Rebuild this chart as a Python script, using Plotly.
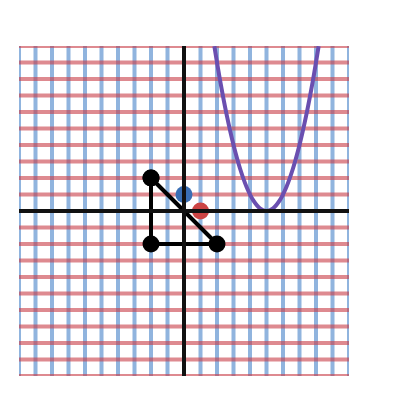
import plotly.graph_objects as go

tri_x = [-2, -2, 2, -2]
tri_y = [2, -2, -2, 2]
blue_pt = (0, 1)
red_pt = (1, 0)
par_x = [1.84, 2.2, 2.6, 3.0, 3.4, 3.8, 4.2, 4.6, 5.0, 5.4, 5.8, 6.2, 6.6, 7.0, 7.4, 7.8, 8.16]
par_y = [9.99, 7.84, 5.76, 4.0, 2.56, 1.44, 0.64, 0.16, 0.0, 0.16, 0.64, 1.44, 2.56, 4.0, 5.76, 7.84, 9.99]
grid_vals = list(range(-10, 11))

fig = go.Figure()
for v in grid_vals:
    fig.add_shape(type="line", x0=v, x1=v, y0=-10, y1=10,
                  line=dict(color="rgba(70,130,200,0.6)", width=4), layer="below")
for v in grid_vals:
    fig.add_shape(type="line", x0=-10, x1=10, y0=v, y1=v,
                  line=dict(color="rgba(200,60,70,0.6)", width=4), layer="below")
fig.add_shape(type="line", x0=-10, x1=10, y0=0, y1=0, line=dict(color="#111", width=4))
fig.add_shape(type="line", x0=0, x1=0, y0=-10, y1=10, line=dict(color="#111", width=4))

fig.add_trace(go.Scatter(x=par_x, y=par_y, mode="lines", line_shape="spline",
                         line=dict(color="#6a4fb0", width=4)))
fig.add_trace(go.Scatter(x=tri_x, y=tri_y, mode="lines+markers",
                         line=dict(color="black", width=4), marker=dict(color="black", size=17)))
fig.add_trace(go.Scatter(x=[blue_pt[0]], y=[blue_pt[1]], mode="markers",
                         marker=dict(color="#3a6fb5", size=17)))
fig.add_trace(go.Scatter(x=[red_pt[0]], y=[red_pt[1]], mode="markers",
                         marker=dict(color="#cc4444", size=17)))

fig.update_xaxes(range=[-10, 10], showgrid=False, zeroline=False, showticklabels=False)
fig.update_yaxes(range=[-10, 10], showgrid=False, zeroline=False, showticklabels=False)
fig.update_layout(width=400, height=400, showlegend=False, plot_bgcolor="white",
                  paper_bgcolor="white", margin=dict(l=11, r=59, t=38, b=32))
fig.write_html("out.html")
